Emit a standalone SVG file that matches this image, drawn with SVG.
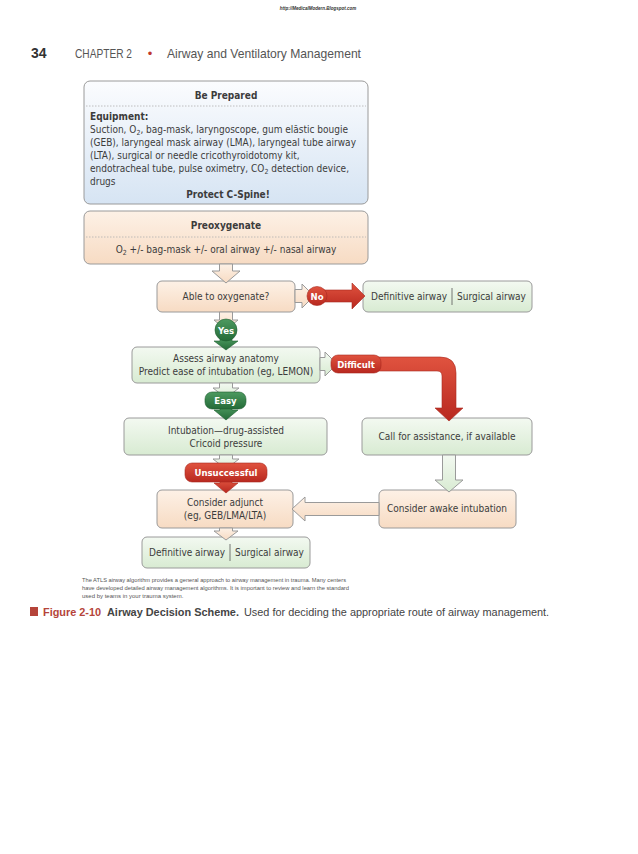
<svg xmlns="http://www.w3.org/2000/svg" width="638" height="854" viewBox="0 0 638 854">
<defs>
<linearGradient id="gBlue" x1="0" y1="0" x2="0" y2="1"><stop offset="0" stop-color="#fbfcfe"/><stop offset="1" stop-color="#d6e4f3"/></linearGradient>
<linearGradient id="gPeach" x1="0" y1="0" x2="0" y2="1"><stop offset="0" stop-color="#fdf1e6"/><stop offset="1" stop-color="#f7dbc3"/></linearGradient>
<linearGradient id="gGreen" x1="0" y1="0" x2="0" y2="1"><stop offset="0" stop-color="#f3f9f1"/><stop offset="1" stop-color="#d8ebd2"/></linearGradient>
<linearGradient id="gRed" x1="0" y1="0" x2="0" y2="1"><stop offset="0" stop-color="#e0533f"/><stop offset="1" stop-color="#b8281f"/></linearGradient>
<linearGradient id="gDkGreen" x1="0" y1="0" x2="0" y2="1"><stop offset="0" stop-color="#4d9a60"/><stop offset="1" stop-color="#246b38"/></linearGradient>
<style>
.box{stroke:#9a9a9a;stroke-width:1}
.blue{fill:url(#gBlue)}
.peach{fill:url(#gPeach)}
.green{fill:url(#gGreen)}
.t{font-family:"DejaVu Sans Condensed","DejaVu Sans",sans-serif;font-size:10px;fill:#3c3c3c}
.c{text-anchor:middle}
.b{font-weight:bold}
.dash{stroke:#b0b0b0;stroke-width:0.8;stroke-dasharray:1.5,1.5;fill:none}
.sep{stroke:#555;stroke-width:0.8}
.hol{stroke:#9a9a9a;stroke-width:1;stroke-linejoin:miter}
.red{fill:url(#gRed);stroke:#a82a20;stroke-width:0.6}
.dg{fill:url(#gDkGreen);stroke:#1f5e31;stroke-width:0.6}
.lbl{font-family:"DejaVu Sans Condensed","DejaVu Sans",sans-serif;font-size:9.5px;font-weight:bold;fill:#ffffff;text-anchor:middle}
.hd{font-family:"Liberation Sans",Arial,sans-serif}
.cap{font-family:"Liberation Sans",Arial,sans-serif;font-size:10.9px}
</style>
</defs>
<rect width="638" height="854" fill="#ffffff"/>

<g id="page-header">
<text x="318" y="10" class="hd" font-size="4.5" font-style="italic" font-weight="bold" text-anchor="middle" fill="#333">http://MedicalModern.Blogspot.com</text>
<text x="31" y="58" class="hd" font-size="14" font-weight="bold" fill="#333">34</text>
<text x="75" y="58" class="hd" font-size="13" fill="#555" textLength="57" lengthAdjust="spacingAndGlyphs">CHAPTER 2</text>
<text x="150" y="58" class="hd" font-size="13" fill="#c0392b" text-anchor="middle">•</text>
<text x="167" y="58" class="hd" font-size="13" fill="#555" textLength="194" lengthAdjust="spacingAndGlyphs">Airway and Ventilatory Management</text>
</g>

<g id="node-be-prepared">
<rect class="box blue" x="84" y="81" width="284" height="123" rx="6"/>
<text class="t c b" x="226" y="99">Be Prepared</text>
<line class="dash" x1="86" y1="106" x2="366" y2="106"/>
<text class="t b" x="90" y="120">Equipment:</text>
<text class="t" x="90" y="133">Suction, O<tspan font-size="7" dy="2">2</tspan><tspan dy="-2">, bag-mask, laryngoscope, gum elăstic bougie</tspan></text>
<text class="t" x="90" y="146">(GEB), laryngeal mask airway (LMA), laryngeal tube airway</text>
<text class="t" x="90" y="159">(LTA), surgical or needle cricothyroidotomy kit,</text>
<text class="t" x="90" y="172">endotracheal tube, pulse oximetry, CO<tspan font-size="7" dy="2">2</tspan><tspan dy="-2"> detection device,</tspan></text>
<text class="t" x="90" y="185">drugs</text>
<text class="t c b" x="228" y="198">Protect C-Spine!</text>
</g>

<g id="node-preoxygenate">
<rect class="box peach" x="84" y="211" width="284" height="53" rx="6"/>
<text class="t c b" x="226" y="229">Preoxygenate</text>
<line class="dash" x1="86" y1="237" x2="366" y2="237"/>
<text class="t c" x="226" y="253">O<tspan font-size="7" dy="2">2</tspan><tspan dy="-2"> +/- bag-mask +/- oral airway +/- nasal airway</tspan></text>
</g>

<g id="node-able">
<rect class="box peach" x="157" y="281" width="138" height="31" rx="5"/>
<text class="t c" x="226" y="300">Able to oxygenate?</text>
</g>

<g id="node-definitive-1">
<rect class="box green" x="363" y="281" width="169" height="31" rx="5"/>
<text class="t" x="447" y="300" text-anchor="end">Definitive airway</text>
<line class="sep" x1="452" y1="288" x2="452" y2="305"/>
<text class="t" x="457" y="300">Surgical airway</text>
</g>

<g id="node-assess">
<rect class="box green" x="132" y="347" width="188" height="36" rx="5"/>
<text class="t c" x="226" y="362">Assess airway anatomy</text>
<text class="t c" x="226" y="375">Predict ease of intubation (eg, LEMON)</text>
</g>

<g id="node-intubation">
<rect class="box green" x="124" y="418" width="203" height="37" rx="5"/>
<text class="t c" x="226" y="434">Intubation—drug-assisted</text>
<text class="t c" x="226" y="447">Cricoid pressure</text>
</g>

<g id="node-call">
<rect class="box green" x="362" y="418" width="170" height="37" rx="5"/>
<text class="t c" x="447" y="440">Call for assistance, if available</text>
</g>

<g id="node-adjunct">
<rect class="box peach" x="157" y="490" width="136" height="38" rx="5"/>
<text class="t c" x="225" y="506">Consider adjunct</text>
<text class="t c" x="225" y="519">(eg, GEB/LMA/LTA)</text>
</g>

<g id="node-awake">
<rect class="box peach" x="379" y="490" width="137" height="38" rx="5"/>
<text class="t c" x="447" y="512">Consider awake intubation</text>
</g>

<g id="node-definitive-2">
<rect class="box green" x="142" y="537" width="168" height="31" rx="5"/>
<text class="t" x="225" y="556" text-anchor="end">Definitive airway</text>
<line class="sep" x1="230" y1="544" x2="230" y2="561"/>
<text class="t" x="235" y="556">Surgical airway</text>
</g>

<g id="connectors">
<path class="hol peach" d="M219.5,264 V271 H212 L226,283 L240,271 H232.5 V264 Z"/>
<path class="hol peach" d="M219.5,312 V320 H214 L226,330 L238,320 H232.5 V312 Z"/>
<path class="hol peach" d="M295,289.5 H302 V284 L314,296 L302,308 V302.5 H295 Z"/>
<path class="hol green" d="M320,357.5 H325 V352 L337,364 L325,376 V370.5 H320 Z"/>
<path class="hol green" d="M219.5,383 V388 H213 L226,398 L239,388 H232.5 V383 Z"/>
<path class="hol green" d="M219.5,455 V459 H213 L226,469 L239,459 H232.5 V455 Z"/>
<path class="hol green" d="M442.5,455 V480 H435 L449,492 L463,480 H455.5 V455 Z"/>
<path class="hol peach" d="M379,502.5 H305 V497 L292,509 L305,521 V515.5 H379 Z"/>
<path class="hol peach" d="M219.5,528 V531 H214 L226,540 L238,531 H232.5 V528 Z"/>
<path class="red" d="M320,290 H352 V283 L365,296 L352,309 V302 H320 Z"/>
<path class="red" d="M375,357 H440 Q456,357 456,373 V408 H463 L449,421 L435,408 H442 V376 Q442,371 437,371 H375 Z"/>
<path class="dg" d="M220,338 V341 H214 L226,350 L238,341 H232 V338 Z"/>
<path class="dg" d="M220,406 V410 H214 L226,420 L238,410 H232 V406 Z"/>
<path class="red" d="M220,480 V483 H214 L226,493 L238,483 H232 V480 Z"/>
<g id="label-no"><ellipse class="red" cx="317" cy="296" rx="10" ry="9.5"/><text class="lbl" x="317" y="299.5">No</text></g>
<g id="label-yes"><circle class="dg" cx="226" cy="330" r="11"/><text class="lbl" x="226" y="333.5">Yes</text></g>
<g id="label-difficult"><rect class="red" x="331" y="355" width="50" height="18" rx="7"/><text class="lbl" x="356" y="367.5">Difficult</text></g>
<g id="label-easy"><rect class="dg" x="205" y="392" width="41" height="17" rx="7"/><text class="lbl" x="225.5" y="404">Easy</text></g>
<g id="label-unsuccessful"><rect class="red" x="185" y="463" width="82" height="19" rx="7"/><text class="lbl" x="226" y="476">Unsuccessful</text></g>
</g>

<g id="caption">
<text class="hd" font-size="6" fill="#555" x="82" y="582" textLength="264" lengthAdjust="spacingAndGlyphs">The ATLS airway algorithm provides a general approach to airway management in trauma. Many centers</text>
<text class="hd" font-size="6" fill="#555" x="82" y="590" textLength="267" lengthAdjust="spacingAndGlyphs">have developed detailed airway management algorithms. It is important to review and learn the standard</text>
<text class="hd" font-size="6" fill="#555" x="82" y="598">used by teams in your trauma system.</text>
<rect x="30" y="607" width="8" height="9" fill="#b5443a"/>
<text class="cap" font-weight="bold" fill="#b5443a" x="43" y="616">Figure 2-10</text>
<text class="cap" font-weight="bold" fill="#444" x="107" y="616">Airway Decision Scheme.</text>
<text class="cap" fill="#444" x="244" y="616">Used for deciding the appropriate route of airway management.</text>
</g>
</svg>
